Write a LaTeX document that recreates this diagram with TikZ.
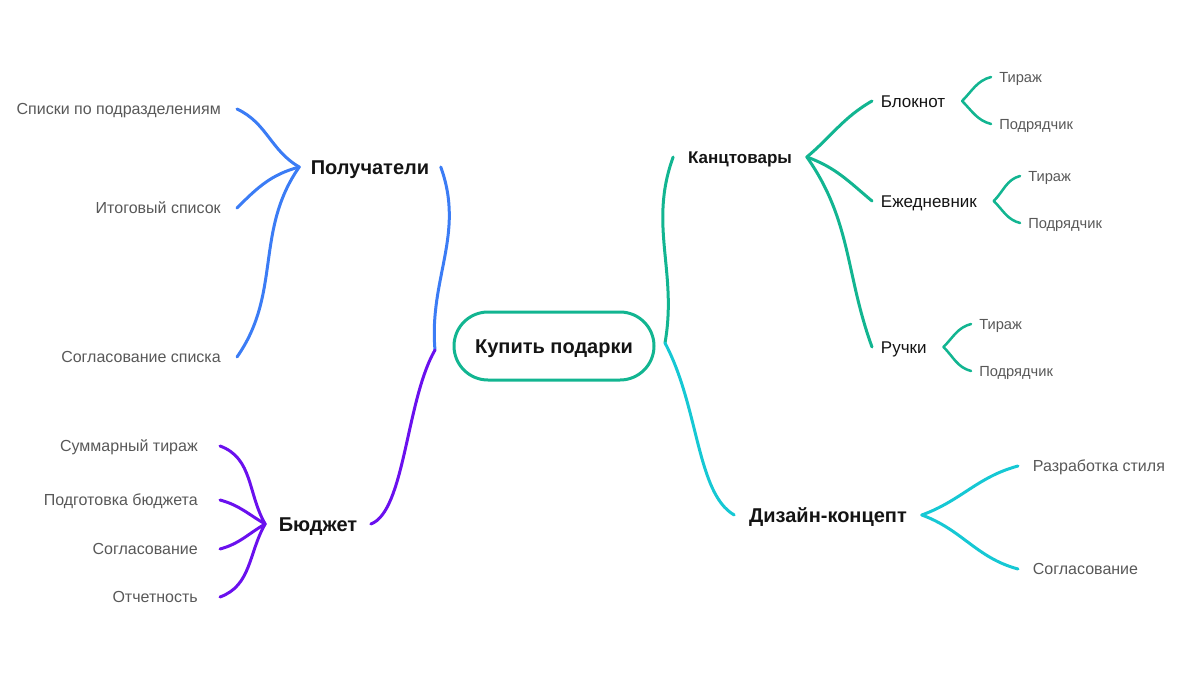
\documentclass[tikz,border=0pt]{standalone}
\usepackage{fontspec}
\setmainfont{Liberation Sans}
\usepackage{xcolor}
\usepackage{tikz}
\definecolor{Blu}{RGB}{59,124,245}
\definecolor{Vio}{RGB}{106,16,238}
\definecolor{Tea}{RGB}{18,181,145}
\definecolor{Cya}{RGB}{22,200,212}
\definecolor{Ink}{RGB}{20,20,20}
\definecolor{Ash}{RGB}{88,88,88}
\tikzset{
  mapnode/.style = {inner sep=0pt, text depth=0pt, align=center},
  root_n/.style = {mapnode, draw=Tea, line width=2.25pt, rounded corners=25.5pt,
    minimum width=150pt, minimum height=51pt, text=Ink, text height=10.7pt,
    font=\bfseries\fontsize{15}{18}\selectfont},% centre of the map
  bough/.style = {mapnode, text=Ink, text height=10.7pt,
    font=\bfseries\fontsize{15}{18}\selectfont},% first level, big
  bough_s/.style = {bough, text height=9.1pt,
    font=\bfseries\fontsize{12.75}{15}\selectfont},% first level, small
  twig/.style = {mapnode, anchor=west, inner xsep=6.5pt, text=Ink,
    text height=9.1pt, font=\fontsize{12.75}{15}\selectfont},% second level
  leafL/.style = {mapnode, anchor=east, inner xsep=#1, text=Ash,
    text height=8.6pt, font=\fontsize{12}{14}\selectfont},% leaf, left side
  leafL/.default = 12pt,
  leafR/.style = {mapnode, anchor=west, inner xsep=#1, text=Ash,
    text height=7.9pt, font=\fontsize{11}{13}\selectfont},% leaf, right side
  leafR/.default = 6pt,
  leafD/.style = {leafR=11pt, text height=8.6pt,
    font=\fontsize{12}{14}\selectfont},% leaf of the design branch
  wire/.style = {draw=#1, line width=2.25pt, line cap=round},
  wire_s/.style = {draw=#1, line width=1.9pt, line cap=round}
}

\begin{document}
\begin{tikzpicture}[x=0.75pt, y=-0.75pt]
  \useasboundingbox (0,0) rectangle (1200,675);
  % centre
  \node [root_n] (gift) at (554,346) {Купить подарки};
  \coordinate (gift_w) at (435,350);
  \coordinate (gift_e) at (665,343);

  % Получатели
  \node [bough, inner xsep=8.5pt] (rcpt) at (370,167) {Получатели};
  \node [leafL] (rcpt_a) at (237,109) {Списки по подразделениям};
  \node [leafL] (rcpt_b) at (237,208) {Итоговый список};
  \node [leafL] (rcpt_c) at (237,357) {Согласование списка};
  \draw [wire=Blu] (gift_w) to[out=95, in=-70] (rcpt.east);
  \draw [wire=Blu] (rcpt.west) to[out=150, in=-25] (rcpt_a.east);
  \draw [wire=Blu] (rcpt.west) to[out=195, in=45] (rcpt_b.east);
  \draw [wire=Blu] (rcpt.west) to[out=235, in=55] (rcpt_c.east);

  % Бюджет
  \node [bough, inner xsep=10pt] (budg) at (318,524) {Бюджет};
  \node [leafL=16.5pt] (budg_a) at (220,446) {Суммарный тираж};
  \node [leafL=16.5pt] (budg_b) at (220,500) {Подготовка бюджета};
  \node [leafL=16.5pt] (budg_c) at (220,549) {Согласование};
  \node [leafL=16.5pt] (budg_d) at (220,597) {Отчетность};
  \draw [wire=Vio] (gift_w) to[out=-120, in=20, out looseness=0.8, in looseness=0.5] (budg.east);
  \draw [wire=Vio] (budg.west) to[out=120, in=-20] (budg_a.east);
  \draw [wire=Vio] (budg.west) to[out=150, in=-15] (budg_b.east);
  \draw [wire=Vio] (budg.west) to[out=210, in=15] (budg_c.east);
  \draw [wire=Vio] (budg.west) to[out=240, in=20] (budg_d.east);

  % Канцтовары
  \node [bough_s, inner xsep=11pt] (stat) at (740,157) {Канцтовары};
  \node [twig] (note) at (872,101) {Блокнот};
  \node [twig] (diar) at (872,201) {Ежедневник};
  \node [twig] (pens) at (872,347) {Ручки};
  \draw [wire=Tea] (gift_e) to[out=80, in=-110] (stat.west);
  \draw [wire=Tea] (stat.east) to[out=40, in=-150] (note.west);
  \draw [wire=Tea] (stat.east) to[out=-20, in=140] (diar.west);
  \draw [wire=Tea] (stat.east) to[out=-55, in=110] (pens.west);

  \coordinate (note_h) at ([xshift=6pt]note.east);
  \node [leafR] (note_a) at (991,77) {Тираж};
  \node [leafR] (note_b) at (991,124) {Подрядчик};
  \draw [wire_s=Tea] (note_h) to[out=45, in=-165] (note_a.west);
  \draw [wire_s=Tea] (note_h) to[out=-45, in=165] (note_b.west);

  \coordinate (diar_h) at ([xshift=6pt]diar.east);
  \node [leafR] (diar_a) at (1020,176) {Тираж};
  \node [leafR] (diar_b) at (1020,223) {Подрядчик};
  \draw [wire_s=Tea] (diar_h) to[out=45, in=-165] (diar_a.west);
  \draw [wire_s=Tea] (diar_h) to[out=-45, in=165] (diar_b.west);

  \coordinate (pens_h) at ([xshift=6pt]pens.east);
  \node [leafR] (pens_a) at (971,324) {Тираж};
  \node [leafR] (pens_b) at (971,371) {Подрядчик};
  \draw [wire_s=Tea] (pens_h) to[out=45, in=-165] (pens_a.west);
  \draw [wire_s=Tea] (pens_h) to[out=-45, in=165] (pens_b.west);

  % Дизайн-концепт
  \node [bough, inner xsep=11pt] (dsgn) at (828,515) {Дизайн-концепт};
  \node [leafD] (dsgn_a) at (1018,466) {Разработка стиля};
  \node [leafD] (dsgn_b) at (1018,569) {Согласование};
  \draw [wire=Cya] (gift_e) to[out=-62, in=150, in looseness=0.6] (dsgn.west);
  \draw [wire=Cya] (dsgn.east) to[out=20, in=-165] (dsgn_a.west);
  \draw [wire=Cya] (dsgn.east) to[out=-20, in=165] (dsgn_b.west);
\end{tikzpicture}
\end{document}
